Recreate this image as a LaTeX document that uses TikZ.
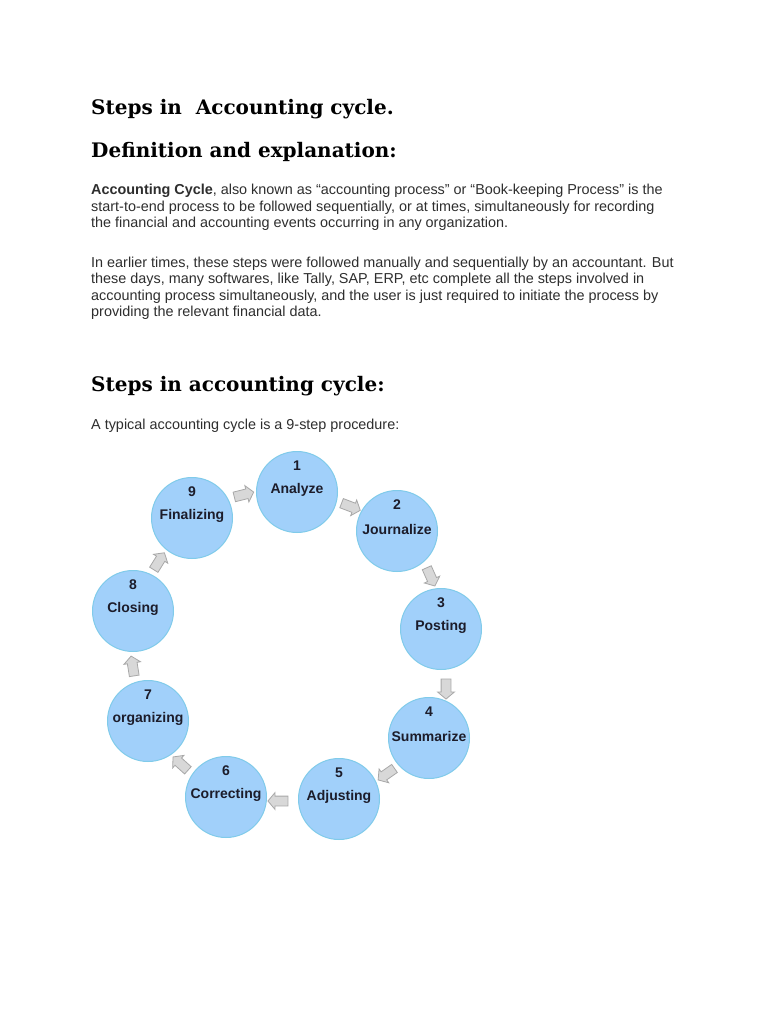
\documentclass[tikz,border=0pt]{standalone}
\usepackage{fontspec}
\setmainfont{Liberation Sans}
\newfontfamily\headfont{DejaVu Serif}
\usetikzlibrary{shapes.arrows}
\definecolor{circfill}{HTML}{A1D0FA}
\definecolor{circline}{HTML}{80CBEA}
\definecolor{arrfill}{HTML}{D8D8D8}
\definecolor{arrline}{HTML}{A8A8A8}
\definecolor{darktext}{HTML}{1C1C2A}
\tikzset{
  heading/.style={anchor=base west,inner sep=0pt,font=\headfont\fontsize{20}{24}\selectfont\bfseries},
  body/.style={anchor=base west,inner sep=0pt,font=\fontsize{14.4}{17}\selectfont,text=black!82},
  stepcirc/.style={circle,minimum size=81pt,inner sep=0pt,fill=circfill,draw=circline,line width=1pt},
  stepnum/.style={inner sep=0pt,font=\fontsize{14}{16}\selectfont\bfseries,text=darktext},
  steplabel/.style={inner sep=0pt,font=\fontsize{14}{16}\selectfont\bfseries,text=darktext},
  blockarrow/.style={single arrow,minimum height=20pt,minimum width=16pt,inner sep=4.5pt,
    single arrow head extend=3.5pt,single arrow tip angle=100,fill=arrfill,draw=arrline,line width=0.8pt}
}
\begin{document}
\begin{tikzpicture}[x=1pt,y=-1pt]
\useasboundingbox[fill=white] (0,0) rectangle (768,1024);
% headings and text
\node[heading] (h1) at (91,115) {Steps in\ \ Accounting cycle.};
\node[heading] (h2) at (91,158) {Definition and explanation:};
\node[body] (p1a) at (91,195) {\textbf{Accounting Cycle}, also known as “accounting process” or “Book-keeping Process” is the};
\node[body] (p1b) at (91,211.5) {start-to-end process to be followed sequentially, or at times, simultaneously for recording};
\node[body] (p1c) at (91,228) {the financial and accounting events occurring in any organization.};
\node[body] (p2a) at (91,267) {In earlier times, these steps were followed manually and sequentially by an accountant. But};
\node[body] (p2b) at (91,283.5) {these days, many softwares, like Tally, SAP, ERP, etc complete all the steps involved in};
\node[body] (p2c) at (91,300) {accounting process simultaneously, and the user is just required to initiate the process by};
\node[body] (p2d) at (91,316.5) {providing the relevant financial data.};
\node[heading] (h3) at (91,391) {Steps in accounting cycle:};
\node[body] (p3) at (91,429) {A typical accounting cycle is a 9-step procedure:};
% circles
\foreach \n/\x/\y/\name in {1/297/492/Analyze,2/397/531/Journalize,3/441/629/Posting,
  4/429/738/Summarize,5/339/799/Adjusting,6/226/797/Correcting,7/148/721/organizing,
  8/133/611/Closing,9/192/518/Finalizing}{
  \node[stepcirc] (c\n) at (\x,\y) {};
  \node[stepnum] (n\n) at ([yshift=26pt]c\n.center) {\n};
  \node[steplabel] (l\n) at ([yshift=2pt]c\n.center) {\name};
}
% arrows
\node[blockarrow,rotate=14] (a91) at (242,495) {};
\node[blockarrow,rotate=-21] (a12) at (349,506) {};
\node[blockarrow,rotate=-66] (a23) at (430,575) {};
\node[blockarrow,rotate=-90] (a34) at (446,687) {};
\node[blockarrow,rotate=-145] (a45) at (388,773) {};
\node[blockarrow,rotate=180] (a56) at (280,801) {};
\node[blockarrow,rotate=138] (a67) at (182,765) {};
\node[blockarrow,rotate=99] (a78) at (133,668) {};
\node[blockarrow,rotate=58] (a89) at (158,563) {};
\end{tikzpicture}
\end{document}
